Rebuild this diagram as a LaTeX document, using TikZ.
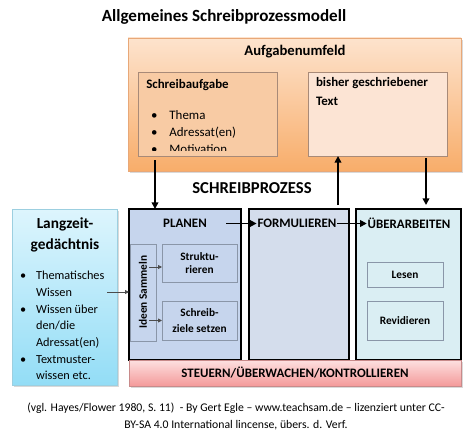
\documentclass[tikz,border=0pt]{standalone}
\usepackage{fontspec}
\setmainfont{Carlito}
\usetikzlibrary{arrows.meta,positioning,shadows}
\definecolor{aufoben}{HTML}{FDE3CD}
\definecolor{aufunten}{HTML}{F8AD6A}
\definecolor{aufrand}{HTML}{E8A878}
\definecolor{aufgabe}{HTML}{F8CBA4}
\definecolor{bisher}{HTML}{FCE4D4}
\definecolor{braunrand}{HTML}{A88A78}
\definecolor{lzgoben}{HTML}{DDF5FD}
\definecolor{lzgunten}{HTML}{93DDF6}
\definecolor{lzgrand}{HTML}{9CCFE0}
\definecolor{planen}{HTML}{C6D5ED}
\definecolor{formul}{HTML}{D4DDEC}
\definecolor{ueber}{HTML}{DAEEF3}
\definecolor{grauRand}{HTML}{8A96A8}
\definecolor{steuoben}{HTML}{FDE0E0}
\definecolor{steuunten}{HTML}{F49A9A}
\definecolor{steurand}{HTML}{C88A8A}
\begin{document}
\begin{tikzpicture}[x=0.75pt,y=-0.75pt,
    box/.style={anchor=north west,inner sep=0pt,outer sep=0pt},
    phase/.style={box,draw=black,line width=1.1pt,minimum height=113.25pt},
    inner/.style={box,draw=grauRand,line width=0.6pt},
    schatten/.style={drop shadow={shadow xshift=1.5pt,shadow yshift=-1.5pt,opacity=0.25,fill=black!60}},
    label/.style={inner sep=0.5pt,font=\fontsize{9.7}{11}\selectfont\bfseries},
    bigarr/.style={line width=1.2pt,-{Triangle[length=5pt,width=5pt]}},
    thinarr/.style={line width=0.6pt,draw=black!70,-{Triangle[length=3pt,width=3pt]}}]
\useasboundingbox (0,0) rectangle (474,442);

\node[font=\fontsize{12.8}{15}\selectfont\bfseries] (titel) at (224,17) {Allgemeines Schreibprozessmodell};

\node[box,draw=aufrand,top color=aufoben,bottom color=aufunten,schatten,
  minimum width=249.75pt,minimum height=99.75pt] (umfeld) at (128,38) {};
\node[font=\fontsize{11}{13}\selectfont\bfseries] (umfeldtxt) at (295,52) {Aufgabenumfeld};
\node[box,draw=braunrand,fill=aufgabe,line width=0.6pt,minimum width=104.25pt,minimum height=63pt] (aufgabe) at (138,72) {};
\node[box,draw=braunrand,fill=bisher,line width=0.6pt,minimum width=104.25pt,minimum height=63pt] (bisher) at (308,72) {};
\node[anchor=west,inner sep=0pt,font=\fontsize{9.7}{12}\selectfont\bfseries] (aufgabetxt) at (146,85) {Schreibaufgabe};
\begin{scope}
  \clip (aufgabe.north west) rectangle ([yshift=4.5pt]aufgabe.south east);
  \node[box,font=\fontsize{9.7}{12.75}\selectfont] (aufgabeliste) at (151,108)
    {\begin{tabular}{@{}l@{\hspace{9pt}}l@{}}\textbullet & Thema\\ \textbullet & Adressat(en)\\ \textbullet & Motivation\end{tabular}};
\end{scope}
\node[box,align=left,font=\fontsize{9.7}{14.25}\selectfont\bfseries] (bishertxt) at (316,77) {bisher geschriebener\\Text};

\node[font=\fontsize{12.5}{14}\selectfont\bfseries] (prozess) at (252,188) {SCHREIBPROZESS};

\node[box,draw=lzgrand,top color=lzgoben,bottom color=lzgunten,schatten,
  minimum width=78.75pt,minimum height=132pt] (lzg) at (12,209) {};
\node[align=center,font=\fontsize{11.5}{15.75}\selectfont\bfseries] (lzgtxt) at (65,234.5) {Langzeit-\\gedächtnis};
\node[box,font=\fontsize{9.2}{12.5}\selectfont] (lzgliste) at (20,268)
  {\begin{tabular}{@{}l@{\hspace{7.5pt}}l@{}}\textbullet & Thematisches\\ & Wissen\\ \textbullet & Wissen über\\ & den/die\\ & Adressat(en)\\ \textbullet & Textmuster-\\ & wissen etc.\end{tabular}};

\node[phase,fill=planen,minimum width=84pt] (planen) at (129,209) {};
\node[phase,fill=formul,minimum width=75pt] (formul) at (249,209) {};
\node[phase,fill=ueber,minimum width=78.75pt] (ueber) at (356,209) {};
\node[label] (planentxt) at (185,223.5) {PLANEN};
\node[label] (formtxt) at (297,223.5) {FORMULIEREN};
\node[label] (uebertxt) at (409,223.5) {ÜBERARBEITEN};

\node[inner,fill=planen,minimum width=19.5pt,minimum height=72.75pt] (ideen) at (130,244) {};
\node[label,rotate=90,font=\fontsize{8.5}{10}\selectfont\bfseries] (ideentxt) at (143,292) {Ideen Sammeln};
\node[inner,fill=planen,minimum width=56.25pt,minimum height=28.5pt] (struk) at (162,244) {};
\node[align=center,label,font=\fontsize{8.5}{9.5}\selectfont\bfseries] (struktxt) at (199.5,263) {Struktu-\\rieren};
\node[inner,fill=planen,minimum width=56.25pt,minimum height=29.25pt] (ziele) at (162,301) {};
\node[align=center,label,font=\fontsize{8.5}{12.5}\selectfont\bfseries] (zieletxt) at (199.5,320.5) {Schreib-\\ziele setzen};

\node[inner,fill=ueber,minimum width=57pt,minimum height=18.75pt] (lesen) at (367,262) {};
\node[label,font=\fontsize{8.5}{10}\selectfont\bfseries] (lesentxt) at (405,274.5) {Lesen};
\node[inner,fill=ueber,minimum width=57pt,minimum height=29.25pt] (revid) at (367,301) {};
\node[label,font=\fontsize{8.5}{10}\selectfont\bfseries] (revidtxt) at (405,320.5) {Revidieren};

\node[box,draw=steurand,top color=steuoben,bottom color=steuunten,schatten,
  minimum width=249pt,minimum height=19.5pt] (steuern) at (129,360) {};
\node[label] (steuerntxt) at (295,372.5) {STEUERN/ÜBERWACHEN/KONTROLLIEREN};

\node[align=center,font=\fontsize{8.8}{12.75}\selectfont] (quelle) at (236,416.5)
  {(vgl. Hayes/Flower 1980, S. 11)\ \ - By Gert Egle – www.teachsam.de – lizenziert unter CC-\\BY-SA 4.0 International lincense, übers. d. Verf.};

\draw[bigarr] ([xshift=12.75pt,yshift=-3pt]aufgabe.south west) -- ([xshift=12.75pt]aufgabe.south west |- planen.north);
\draw[bigarr] ([xshift=22.5pt]bisher.south west |- formul.north) ++(0,3pt) -- ([xshift=22.5pt]bisher.south west);
\draw[bigarr] ([xshift=88.5pt,yshift=-1.5pt]bisher.south west) -- ([xshift=88.5pt,yshift=3pt]bisher.south west |- ueber.north);
\draw[bigarr] ([xshift=14pt]planentxt.east) -- (formtxt.west);
\draw[bigarr] (formtxt.east) -- (uebertxt.west);
\draw[thinarr] ([xshift=-7.5pt,yshift=3.75pt]lzg.east) -- ([yshift=3.75pt]lzg.east -| planen.west);
\draw[thinarr] ([xshift=-5pt,yshift=-3pt]ideen.east |- struk.west) -- ([yshift=-3pt]struk.west);
\draw[thinarr] ([xshift=-5pt]ideen.east |- ziele.west) -- (ziele.west);
\end{tikzpicture}
\end{document}
